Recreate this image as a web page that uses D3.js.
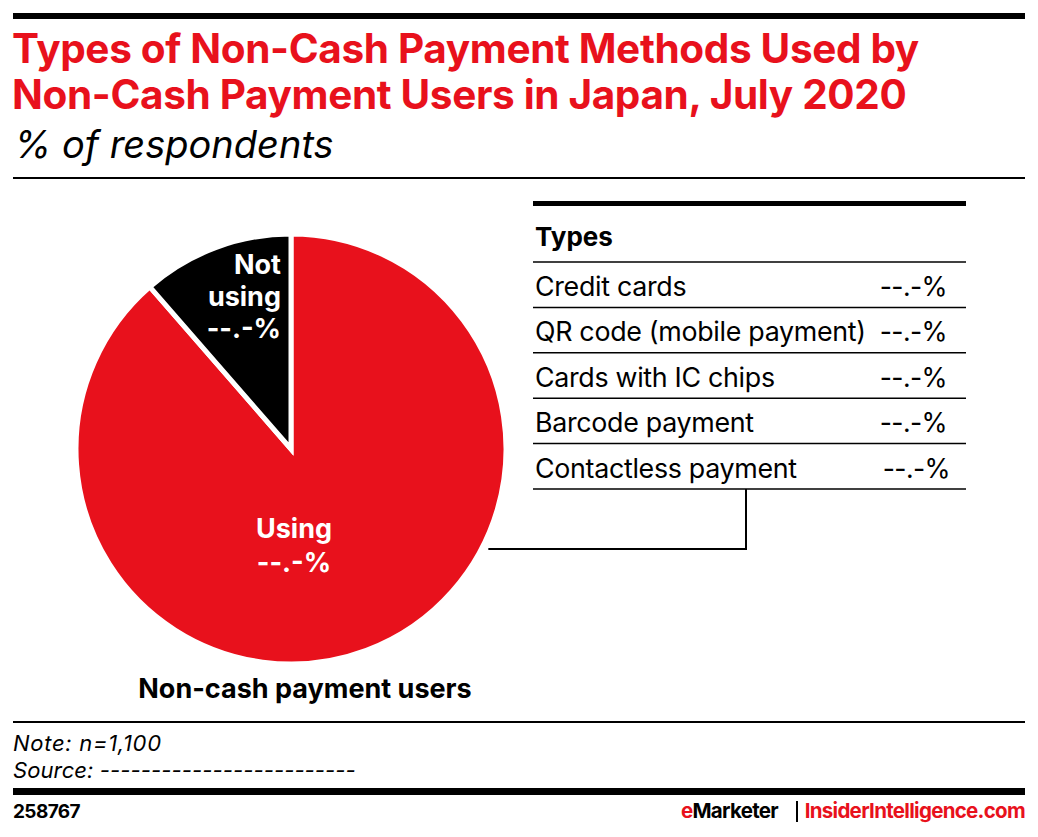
<!DOCTYPE html>
<html><head><meta charset="utf-8">
<script src="https://cdn.jsdelivr.net/npm/d3@7/dist/d3.min.js"></script>
<style>body{margin:0;background:#fff}svg{display:block}</style>
</head><body>
<svg id="c" width="1038" height="837"></svg>
<script>
const titleLines = ["Types of Non-Cash Payment Methods Used by", "Non-Cash Payment Users in Japan, July 2020"];
const subtitle = "% of respondents";
const segments = ["Using", "Not using"];
const shares = [88.6, 11.4];
const shareLabels = ["--.-%", "--.-%"];
const types = ["Credit cards", "QR code (mobile payment)", "Cards with IC chips", "Barcode payment", "Contactless payment"];
const typeValues = ["--.-%", "--.-%", "--.-%", "--.-%", "--.-%"];
const pieCaption = "Non-cash payment users";
const note = "Note: n=1,100";
const source = "Source: -------------------------";
const chartId = "258767";

const RED = "#e8111c";
const svg = d3.select("#c");
const F = "Inter, 'Noto Sans', sans-serif";

// top bar
svg.append("rect").attr("x", 13).attr("y", 13).attr("width", 1012).attr("height", 6).attr("fill", "#000");
const title = svg.append("text").attr("y", 63)
  .attr("font-family", F).attr("font-weight", 700).attr("font-size", 40.5)
  .attr("letter-spacing", -0.35).attr("fill", RED);
titleLines.forEach((t, i) => {
  title.append("tspan").attr("x", 12).attr("dy", i === 0 ? 0 : 45.5).text(t);
});
svg.append("text").attr("x", 14).attr("y", 158).text(subtitle)
  .attr("font-family", F).attr("font-style", "italic").attr("font-size", 38).attr("fill", "#000");
svg.append("rect").attr("x", 13).attr("y", 177).attr("width", 1012).attr("height", 2).attr("fill", "#000");

// pie
const cx = 291, cy = 449, R = 215;
const pie = d3.pie().sort(null).value(d => d.v);
const data = segments.map((s, i) => ({name: s, v: shares[i], label: shareLabels[i]}));
const arcs = pie(data);
const arc = d3.arc().innerRadius(0).outerRadius(R);
const colors = d3.scaleOrdinal().domain(segments).range([RED, "#000"]);
const g = svg.append("g").attr("transform", `translate(${cx},${cy})`);
g.selectAll("path").data(arcs).join("path")
  .attr("d", arc).attr("fill", d => colors(d.data.name))
  .attr("stroke", "#fff").attr("stroke-width", 5).attr("stroke-linejoin", "miter");

// labels
const lab = (x, y, t, anchor) => svg.append("text").attr("x", x).attr("y", y).text(t)
  .attr("font-family", F).attr("font-weight", 700).attr("font-size", 27)
  .attr("fill", "#fff").attr("text-anchor", anchor);
lab(294, 538, arcs[0].data.name, "middle");
lab(294, 572, arcs[0].data.label, "middle");
lab(281, 274, "Not", "end");
lab(281, 306, "using", "end");
lab(281, 338, arcs[1].data.label, "end");

svg.append("text").attr("x", 305).attr("y", 698).text(pieCaption)
  .attr("font-family", F).attr("font-weight", 700).attr("font-size", 27)
  .attr("text-anchor", "middle").attr("fill", "#000");

// table
const tx0 = 533, tx1 = 966;
svg.append("rect").attr("x", tx0).attr("y", 201).attr("width", tx1 - tx0).attr("height", 5).attr("fill", "#000");
svg.append("text").attr("x", 535).attr("y", 246).text("Types")
  .attr("font-family", F).attr("font-weight", 700).attr("font-size", 26).attr("fill", "#000");
const rowY = d3.scaleLinear().domain([0, types.length]).range([262, 489]);
const lineYs = d3.range(types.length + 1).map(i => rowY(i));
lineYs.forEach(y => {
  svg.append("line").attr("x1", tx0).attr("x2", tx1).attr("y1", y).attr("y2", y)
    .attr("stroke", "#000").attr("stroke-width", 1.5);
});
types.forEach((t, i) => {
  const yb = lineYs[i] + 34;
  svg.append("text").attr("x", 535).attr("y", yb).text(t)
    .attr("font-family", F).attr("font-size", 26.8).attr("fill", "#000").attr("letter-spacing", -0.3);
  svg.append("text").attr("x", i === types.length - 1 ? 950 : 947).attr("y", yb).text(typeValues[i])
    .attr("font-family", F).attr("font-size", 26.5).attr("fill", "#000").attr("text-anchor", "end")
    .attr("letter-spacing", -0.6);
});

// connector
const connY = 549;
const edgeX = cx + Math.sqrt(R * R - (connY - cy) * (connY - cy)) + 7;
svg.append("path").attr("d", `M${edgeX},${connY}H746V${lineYs[types.length]}`)
  .attr("fill", "none").attr("stroke", "#000").attr("stroke-width", 2);

// footer
svg.append("rect").attr("x", 13).attr("y", 721).attr("width", 1012).attr("height", 2).attr("fill", "#000");
svg.append("text").attr("x", 13).attr("y", 751).text(note)
  .attr("font-family", F).attr("font-style", "italic").attr("font-size", 22).attr("letter-spacing", 0.7);
svg.append("text").attr("x", 13).attr("y", 778).text(source)
  .attr("font-family", F).attr("font-style", "italic").attr("font-size", 22).attr("letter-spacing", 0.1);
svg.append("rect").attr("x", 13).attr("y", 788).attr("width", 1012).attr("height", 7).attr("fill", "#000");
svg.append("text").attr("x", 13).attr("y", 818).text(chartId)
  .attr("font-family", F).attr("font-weight", 700).attr("font-size", 19).attr("letter-spacing", -0.6);
const fAttrs = sel => sel.attr("y", 818).attr("text-anchor", "end").attr("font-family", F)
  .attr("font-weight", 700).attr("font-size", 20.5).attr("letter-spacing", -0.7);
fAttrs(svg.append("text").attr("x", 1025).attr("fill", RED).text("InsiderIntelligence.com"));
svg.append("line").attr("x1", 797).attr("x2", 797).attr("y1", 801).attr("y2", 822).attr("stroke", "#000").attr("stroke-width", 2);
const em = fAttrs(svg.append("text").attr("x", 778));
em.append("tspan").attr("fill", RED).text("e");
em.append("tspan").attr("fill", "#000").text("Marketer");
</script>
</body></html>
